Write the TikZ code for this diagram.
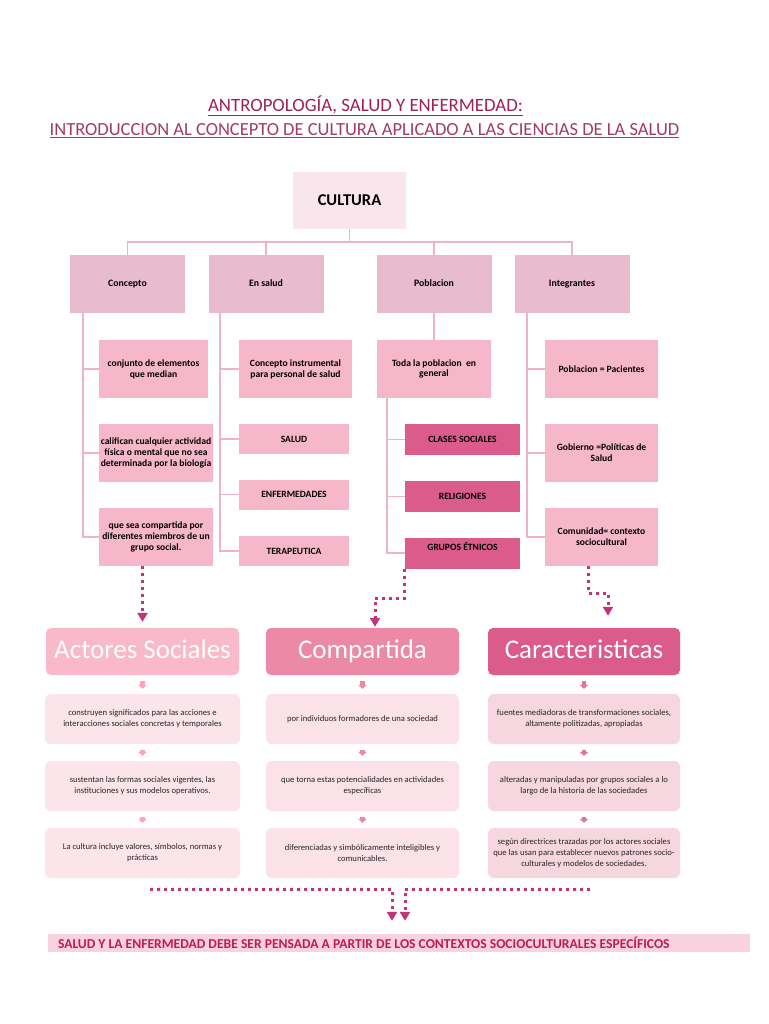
\documentclass[tikz,border=0pt]{standalone}
\usepackage{fontspec}
\setmainfont{Carlito}
\usetikzlibrary{arrows.meta}

\definecolor{plum}{HTML}{9E2158}
\definecolor{plumlight}{HTML}{A33A68}
\definecolor{rosepale}{HTML}{F9E6EC}
\definecolor{mauve}{HTML}{E8BBCF}
\definecolor{rose}{HTML}{F7B7CA}
\definecolor{fuchsia}{HTML}{DB5C8A}
\definecolor{treeline}{HTML}{EDB3C8}
\definecolor{dotline}{HTML}{C2337A}
\definecolor{headA}{HTML}{F9B9CB}
\definecolor{headB}{HTML}{EC89A6}
\definecolor{headC}{HTML}{DB5B8A}
\definecolor{cardA}{HTML}{FCE4EB}
\definecolor{cardB}{HTML}{FBE1E8}
\definecolor{cardC}{HTML}{F6D6DF}
\definecolor{banner}{HTML}{F8D3DE}
\definecolor{bannertext}{HTML}{C0185A}

\begin{document}
\begin{tikzpicture}[x=1pt,y=-1pt,
  every node/.style={align=center, inner sep=2pt},
  cultbox/.style={fill=rosepale, minimum width=113, minimum height=57,
    font=\fontsize{16.5}{18}\selectfont\bfseries},
  lvltwo/.style={fill=mauve, minimum width=115, minimum height=58,
    text height=7, text depth=2.5, font=\fontsize{9.8}{11}\selectfont\bfseries},
  lvlthree/.style={fill=rose, minimum height=58,
    font=\fontsize{9.6}{10.8}\selectfont\bfseries},
  tag/.style={fill=rose, minimum width=110, minimum height=30,
    font=\fontsize{9.6}{10.8}\selectfont\bfseries},
  darktag/.style={fill=fuchsia, minimum width=115, minimum height=31,
    font=\fontsize{9.6}{10.8}\selectfont\bfseries},
  tree/.style={draw=treeline, line width=1.2pt},
  dotarrow/.style={draw=dotline, line width=3pt, dash pattern=on 3pt off 4pt,
    -{Triangle[width=10pt,length=9pt]}},
  header/.style={rounded corners=5pt, minimum height=47, text=white,
    text height=19, text depth=6, font=\fontsize{27}{30}\selectfont},
  card/.style={rounded corners=6pt, minimum height=50, text=black!85,
    font=\fontsize{8.6}{11}\selectfont},
  blockarrow/.style={line width=4.5pt, shorten <=6pt, shorten >=5pt,
    -{Triangle[width=8.5pt,length=4pt]}}]

\fill[white] (0,0) rectangle (768,1024);
\useasboundingbox (0,0) rectangle (768,1024);

% titles
\node[text=plum, font=\fontsize{18.8}{20}\selectfont] (title) at (365.5,106)
  {\underline{ANTROPOLOGÍA, SALUD Y ENFERMEDAD:}};
\node[text=plumlight, font=\fontsize{18.5}{20}\selectfont] (subtitle) at (364.5,131)
  {\underline{INTRODUCCION AL CONCEPTO DE CULTURA APLICADO A LAS CIENCIAS DE LA SALUD}};

% root and first level
\node[cultbox] (cultura) at (349.5,200.5) {CULTURA};
\node[lvltwo] (concepto) at (127.5,284) {Concepto};
\node[lvltwo] (ensalud) at (266,284) {En salud};
\node[lvltwo] (poblacion) at (434,284) {Poblacion};
\node[lvltwo] (integrantes) at (572,284) {Integrantes};

\coordinate (bar) at (349.5,242);
\draw[tree] (cultura.south) -- (bar);
\draw[tree] (concepto.north) |- (bar);
\draw[tree] (ensalud.north) |- (bar);
\draw[tree] (poblacion.north) |- (bar);
\draw[tree] (integrantes.north) |- (bar);

% Concepto column
\node[lvlthree, minimum width=109] (cuno) at (153.5,369) {conjunto de elementos\\que median};
\node[lvlthree, minimum width=114] (cdos) at (156,453)
  {califican cualquier actividad\\física o mental que no sea\\determinada por la biología};
\node[lvlthree, minimum width=114] (ctres) at (156,537)
  {que sea compartida por\\diferentes miembros de un\\grupo social.};
\coordinate (cspine) at (83,313);
\draw[tree] (cspine) |- (cuno.west);
\draw[tree] (cspine) |- (cdos.west);
\draw[tree] (cspine) |- (ctres.west);

% En salud column
\node[lvlthree, minimum width=113] (suno) at (295.5,369) {Concepto instrumental\\para personal de salud};
\node[tag] (salud) at (294,439) {SALUD};
\node[tag] (enfermedades) at (294,494.5) {ENFERMEDADES};
\node[tag] (terapeutica) at (294,551) {TERAPEUTICA};
\coordinate (sspine) at (220,313);
\draw[tree] (sspine) |- (suno.west);
\draw[tree] (sspine) |- (salud.west);
\draw[tree] (sspine) |- (enfermedades.west);
\draw[tree] (sspine) |- (terapeutica.west);

% Poblacion column
\node[lvlthree, minimum width=114] (toda) at (434,369) {Toda la poblacion \ en\\general};
\node[darktag] (clases) at (462.5,439.5) {CLASES SOCIALES};
\node[darktag] (religiones) at (462.5,496.5) {RELIGIONES};
\node[darktag] (grupos) at (462.5,553) {GRUPOS ÉTNICOS\\[3pt]\mbox{}};
\draw[tree] (poblacion.south) -- (toda.north);
\coordinate (pspine) at (387,398);
\draw[tree] (pspine) |- (clases.west);
\draw[tree] (pspine) |- (religiones.west);
\draw[tree] (pspine) |- (grupos.west);

% Integrantes column
\node[lvlthree, minimum width=113] (iuno) at (601.5,369) {Poblacion = Pacientes};
\node[lvlthree, minimum width=113] (idos) at (601.5,453) {Gobierno =Políticas de\\Salud};
\node[lvlthree, minimum width=113] (itres) at (601.5,537) {Comunidad= contexto\\sociocultural};
\coordinate (ispine) at (527,313);
\draw[tree] (ispine) |- (iuno.west);
\draw[tree] (ispine) |- (idos.west);
\draw[tree] (ispine) |- (itres.west);

% headers
\node[header, fill=headA, minimum width=193] (actores) at (142.5,651.5) {Actores Sociales};
\node[header, fill=headB, minimum width=193] (compartida) at (362.5,651.5) {Compartida};
\node[header, fill=headC, minimum width=192] (caract) at (584,651.5) {Caracteristicas};

% dotted arrows to the headers
\draw[dotarrow, shorten >=6pt] (actores.north |- ctres.south) -- (actores.north);
\coordinate (bendb) at (375,598);
\draw[dotarrow, shorten >=1pt] (grupos.south west) |- (bendb) -- (compartida.north -| bendb);
\coordinate (cout) at (588,566);
\coordinate (bendc) at (608,593);
\draw[dotarrow, shorten >=12pt] (cout) |- (bendc) -- (caract.north -| bendc);

% cards
\node[card, fill=cardA, minimum width=195] (aone) at (142.5,719)
  {construyen significados para las acciones e\\interacciones sociales concretas y temporales};
\node[card, fill=cardA, minimum width=195] (atwo) at (142.5,786)
  {sustentan las formas sociales vigentes, las\\instituciones y sus modelos operativos.};
\node[card, fill=cardA, minimum width=195] (athree) at (142.5,853)
  {La cultura incluye valores, símbolos, normas y\\prácticas};
\node[card, fill=cardB, minimum width=193] (bone) at (362.5,719)
  {por individuos formadores de una sociedad};
\node[card, fill=cardB, minimum width=193] (btwo) at (362.5,786)
  {que torna estas potencialidades en actividades\\específicas};
\node[card, fill=cardB, minimum width=193] (bthree) at (362.5,853)
  {diferenciadas y simbólicamente inteligibles y\\comunicables.};
\node[card, fill=cardC, minimum width=192] (cone) at (584,719)
  {fuentes mediadoras de transformaciones sociales,\\altamente politizadas, apropiadas};
\node[card, fill=cardC, minimum width=192] (ctwo) at (584,786)
  {alteradas y manipuladas por grupos sociales a lo\\largo de la historia de las sociedades};
\node[card, fill=cardC, minimum width=192] (cthree) at (584,853)
  {según directrices trazadas por los actores sociales\\que las usan para establecer nuevos patrones socio-\\culturales y modelos de sociedades.};

\draw[blockarrow, draw=headA!90!red] (actores) -- (aone);
\draw[blockarrow, draw=headA!90!red] (aone) -- (atwo);
\draw[blockarrow, draw=headA!90!red] (atwo) -- (athree);
\draw[blockarrow, draw=headB] (compartida) -- (bone);
\draw[blockarrow, draw=headB] (bone) -- (btwo);
\draw[blockarrow, draw=headB] (btwo) -- (bthree);
\draw[blockarrow, draw=headC!85] (caract) -- (cone);
\draw[blockarrow, draw=headC!85] (cone) -- (ctwo);
\draw[blockarrow, draw=headC!85] (ctwo) -- (cthree);

% conclusion
\node[fill=banner, minimum width=702, minimum height=18, inner xsep=10pt,
  text=bannertext, font=\fontsize{13.6}{14}\selectfont\bfseries] (conclusion) at (399,943)
  {\makebox[682pt][l]{SALUD Y LA ENFERMEDAD DEBE SER PENSADA A PARTIR DE LOS CONTEXTOS SOCIOCULTURALES ESPECÍFICOS}};
\coordinate (ldot) at (150,889);
\coordinate (lturn) at (392,889);
\coordinate (rdot) at (590,889);
\coordinate (rturn) at (405,889);
\draw[dotarrow, shorten >=13pt] (ldot) -- (lturn) -- (conclusion.north -| lturn);
\draw[dotarrow, shorten >=13pt] (rdot) -- (rturn) -- (conclusion.north -| rturn);
\end{tikzpicture}
\end{document}
